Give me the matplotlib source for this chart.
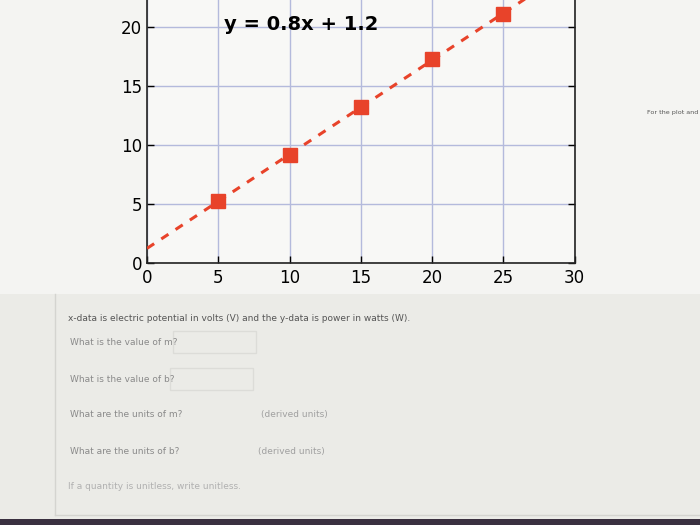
import numpy as np
import matplotlib
matplotlib.use("Agg")
import matplotlib.pyplot as plt
from matplotlib.patches import Rectangle

# values
volts = [5, 10, 15, 20, 25]
watts = [5.2, 9.1, 13.2, 17.3, 21.1]
slope, intercept = 0.8, 1.2
xticks = [0, 5, 10, 15, 20, 25, 30]
yticks = [0, 5, 10, 15, 20]

questions = ["What is the value of m?", "What is the value of b?",
             "What are the units of m?", "What are the units of b?"]

fig = plt.figure(figsize=(7, 5.25), dpi=100)
fig.patch.set_facecolor("#ebebe7")

# page background region (the chart area is brighter)
fig.add_artist(Rectangle((0.0, 0.44), 1.0, 0.56, transform=fig.transFigure,
                         facecolor="#f4f4f2", edgecolor="none", zorder=-5))
# page border lines
fig.add_artist(plt.Line2D([0.078, 0.078], [0.02, 0.44], transform=fig.transFigure,
                          color="#d4d4d0", lw=1))
fig.add_artist(plt.Line2D([0.078, 1.0], [0.02, 0.02], transform=fig.transFigure,
                          color="#d4d4d0", lw=1))
fig.add_artist(Rectangle((0.0, 0.0), 1.0, 0.012, transform=fig.transFigure,
                         facecolor="#3a3040", edgecolor="none"))

ax = fig.add_axes([0.21, 0.50, 0.611, 0.56])
ax.set_facecolor("#f8f8f6")
xs = np.array([0, 30])
ax.plot(xs, slope * xs + intercept, ls=(0, (2.8, 2.8)), color="#e8432a", lw=2.2, zorder=3)
ax.plot(volts, watts, ls="none", marker="s", ms=10, color="#e8432a", zorder=4)
ax.set_xlim(0, 30)
ax.set_ylim(0, 25)
ax.set_xticks(xticks)
ax.set_yticks(yticks)
ax.grid(True, color="#b4badc", lw=1)
ax.set_axisbelow(True)
ax.tick_params(direction="in", length=5, labelsize=12, width=1, top=True, right=True)
ax.tick_params(axis="x", pad=5)
for s in ax.spines.values():
    s.set_linewidth(1.2)
    s.set_color("#222222")
ax.text(5.4, 20.2, "y = 0.8x + 1.2", fontsize=14, fontweight="bold", va="center")

fig.text(0.097, 0.393, "x-data is electric potential in volts (V) and the y-data is power in watts (W).",
         fontsize=6.5, color="#555555", va="center")

rows = [0.347, 0.277, 0.210, 0.140]
for q, yy in zip(questions, rows):
    fig.text(0.10, yy, q, fontsize=6.5, color="#8a8a8a", va="center")
fig.add_artist(Rectangle((0.247, 0.327), 0.118, 0.042, transform=fig.transFigure,
                         facecolor="none", edgecolor="#dcdcd8", lw=1))
fig.add_artist(Rectangle((0.243, 0.257), 0.118, 0.042, transform=fig.transFigure,
                         facecolor="none", edgecolor="#dcdcd8", lw=1))
fig.text(0.373, 0.210, "(derived units)", fontsize=6.5, color="#a0a0a0", va="center")
fig.text(0.368, 0.140, "(derived units)", fontsize=6.5, color="#a0a0a0", va="center")
fig.text(0.097, 0.074, "If a quantity is unitless, write unitless.", fontsize=6.5,
         color="#b0b0b0", va="center")
fig.text(0.998, 0.786, "For the plot and", fontsize=4.6, color="#555555", va="center",
         ha="right")

fig.savefig("out.png", dpi=100, facecolor=fig.get_facecolor())
